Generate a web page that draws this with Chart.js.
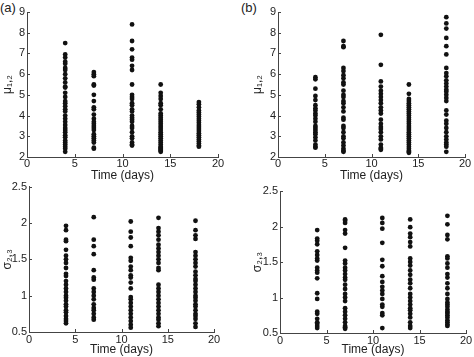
<!DOCTYPE html>
<html><head><meta charset="utf-8">
<script src="https://cdn.jsdelivr.net/npm/chart.js@4/dist/chart.umd.min.js"></script>
<style>
html,body{margin:0;padding:0;background:#fff;width:474px;height:357px;overflow:hidden;font-family:"Liberation Sans",Arial,sans-serif;}
.panel{position:absolute;}
.lab{position:absolute;font-size:13px;color:#222;}
</style></head><body>
<div class="lab" style="left:0px;top:0px;">(a)</div>
<div class="lab" style="left:241px;top:0px;">(b)</div>
<div class="panel" style="left:0;top:0;width:232px;height:183px;"><canvas id="cA"></canvas></div>
<div class="panel" style="left:250px;top:0;width:224px;height:183px;"><canvas id="cB"></canvas></div>
<div class="panel" style="left:0;top:178px;width:232px;height:179px;"><canvas id="cC"></canvas></div>
<div class="panel" style="left:250px;top:178px;width:224px;height:179px;"><canvas id="cD"></canvas></div>
<script>
// ---- Data ----
const days = [4, 7, 11, 14, 18];
const xTicks = [0, 5, 10, 15, 20];
const muTicks = [2, 3, 4, 5, 6, 7, 8, 9];
const sigmaTicks = [0.5, 1, 1.5, 2, 2.5];

// Panel (a): mu_{1,2}
const muA_d4 = [7.5, 6.95, 6.8, 6.6, 6.5, 6.3, 6.2, 6.0, 5.8, 5.6, 5.4, 5.35, 5.1, 4.9, 4.7, 4.6, 4.45, 4.3, 4.2, 4.0, 3.85, 3.7, 3.55, 3.4, 3.3, 3.2, 3.05, 2.95, 2.8, 2.7, 2.6, 2.5, 2.4, 2.25];
const muA_d7 = [6.1, 6.0, 5.9, 5.5, 5.45, 5.0, 4.7, 4.4, 4.3, 4.05, 3.85, 3.7, 3.6, 3.5, 3.4, 3.3, 3.1, 3.0, 2.9, 2.8, 2.7, 2.45, 2.4];
const muA_d11 = [8.4, 7.6, 7.2, 6.8, 6.7, 6.4, 6.2, 5.5, 5.0, 4.9, 4.8, 4.6, 4.5, 4.3, 4.2, 4.0, 3.9, 3.8, 3.7, 3.5, 3.4, 3.2, 3.0, 2.9, 2.7, 2.6, 2.55];
const muA_d14 = [5.5, 5.1, 4.95, 4.8, 4.6, 4.5, 4.3, 4.1, 4.0, 3.9, 3.8, 3.7, 3.6, 3.5, 3.4, 3.3, 3.2, 3.1, 3.0, 2.9, 2.8, 2.7, 2.6, 2.5, 2.45, 2.4, 2.35, 2.3, 2.25];
const muA_d18 = [4.65, 4.55, 4.4, 4.25, 4.15, 4.05, 3.95, 3.85, 3.75, 3.65, 3.55, 3.45, 3.35, 3.25, 3.15, 3.05, 2.95, 2.85, 2.75, 2.65, 2.55, 2.5];

// Panel (b): mu_{1,2}
const muB_d4 = [5.85, 5.75, 5.3, 4.95, 4.75, 4.5, 4.35, 4.25, 4.1, 4.0, 3.85, 3.7, 3.5, 3.4, 3.3, 3.2, 3.1, 2.95, 2.8, 2.6, 2.5, 2.45];
const muB_d7 = [7.6, 7.35, 7.3, 6.3, 6.15, 5.95, 5.8, 5.6, 5.5, 5.2, 5.0, 4.9, 4.7, 4.6, 4.4, 4.2, 3.9, 3.8, 3.5, 3.4, 3.2, 3.0, 2.9, 2.7, 2.55, 2.4, 2.3, 2.25];
const muB_d11 = [7.9, 6.45, 5.65, 5.4, 5.2, 5.05, 4.9, 4.75, 4.6, 4.4, 4.25, 4.1, 3.8, 3.6, 3.45, 3.35, 3.2, 3.0, 2.85, 2.6, 2.45, 2.4, 2.35];
const muB_d14 = [5.5, 5.05, 4.8, 4.7, 4.6, 4.5, 4.4, 4.3, 4.2, 4.1, 4.0, 3.9, 3.8, 3.7, 3.6, 3.5, 3.4, 3.3, 3.2, 3.1, 3.0, 2.9, 2.8, 2.7, 2.6, 2.5, 2.4, 2.3, 2.25, 2.2];
const muB_d18 = [8.75, 8.45, 8.2, 7.75, 7.35, 6.95, 6.3, 6.05, 5.9, 5.7, 5.55, 5.4, 5.25, 5.15, 5.0, 4.85, 4.7, 4.25, 4.05, 3.75, 3.6, 3.4, 3.2, 3.0, 2.85, 2.7, 2.6, 2.5, 2.25];

// Bottom-left: sigma_{2,3}
const sgC_d4 = [1.96, 1.9, 1.77, 1.75, 1.63, 1.55, 1.5, 1.45, 1.38, 1.3, 1.27, 1.2, 1.15, 1.1, 1.05, 1.0, 0.97, 0.93, 0.88, 0.85, 0.8, 0.77, 0.72, 0.68, 0.65, 0.62];
const sgC_d7 = [2.08, 1.77, 1.68, 1.57, 1.35, 1.25, 1.22, 1.1, 1.05, 1.0, 0.95, 0.88, 0.83, 0.8, 0.75, 0.7, 0.67];
const sgC_d11 = [2.02, 1.88, 1.8, 1.68, 1.52, 1.48, 1.4, 1.35, 1.28, 1.25, 1.18, 1.1, 0.98, 0.95, 0.9, 0.85, 0.8, 0.75, 0.7, 0.65, 0.6, 0.56];
const sgC_d14 = [2.07, 1.93, 1.88, 1.83, 1.77, 1.7, 1.65, 1.6, 1.55, 1.5, 1.45, 1.38, 1.35, 1.15, 1.1, 1.05, 1.0, 0.95, 0.9, 0.85, 0.8, 0.75, 0.7, 0.67, 0.62, 0.58];
const sgC_d18 = [2.03, 1.9, 1.83, 1.78, 1.6, 1.55, 1.5, 1.45, 1.4, 1.33, 1.28, 1.23, 1.2, 1.15, 1.1, 1.05, 1.0, 0.97, 0.93, 0.88, 0.85, 0.8, 0.75, 0.72, 0.68, 0.62, 0.57];

// Bottom-right: sigma_{2,3}
const sgD_d4 = [1.95, 1.83, 1.8, 1.75, 1.65, 1.6, 1.55, 1.52, 1.42, 1.38, 1.35, 1.27, 1.06, 0.98, 0.8, 0.77, 0.7, 0.65, 0.63, 0.6, 0.57];
const sgD_d7 = [2.1, 2.08, 2.05, 1.95, 1.9, 1.7, 1.52, 1.48, 1.42, 1.38, 1.33, 1.28, 1.25, 1.18, 1.12, 1.05, 1.0, 0.95, 0.85, 0.8, 0.75, 0.7, 0.65, 0.6, 0.58, 0.56];
const sgD_d11 = [2.12, 2.05, 1.97, 1.77, 1.53, 1.44, 1.3, 1.22, 1.15, 1.1, 1.05, 0.98, 0.9, 0.87, 0.78, 0.75, 0.57];
const sgD_d14 = [2.1, 1.99, 1.9, 1.85, 1.78, 1.72, 1.55, 1.5, 1.45, 1.38, 1.32, 1.25, 1.2, 1.13, 1.05, 1.0, 0.95, 0.9, 0.85, 0.82, 0.77, 0.72, 0.65, 0.6, 0.57];
const sgD_d18 = [2.15, 2.03, 1.88, 1.82, 1.58, 1.55, 1.48, 1.42, 1.33, 1.28, 1.2, 1.13, 1.05, 0.98, 0.93, 0.9, 0.87, 0.83, 0.8, 0.78, 0.75, 0.72, 0.68, 0.65, 0.62, 0.6];

const xLabel = 'Time (days)';
const muLabel = 'μ₁,₂';
const sigmaLabel = 'σ₂,₃';

// ---- Helpers ----
function toPoints(day, vals){ return vals.map(v => ({x: day, y: v})); }

const inwardTicks = {
  id: 'inwardTicks',
  afterDraw(chart){
    const ctx = chart.ctx, a = chart.chartArea;
    ctx.save();
    ctx.strokeStyle = '#444'; ctx.lineWidth = 1;
    const xs = chart.scales.x, ys = chart.scales.y;
    xs.ticks.forEach(t => {
      const px = Math.round(xs.getPixelForValue(t.value)) + 0.5;
      ctx.beginPath(); ctx.moveTo(px, a.bottom); ctx.lineTo(px, a.bottom - 3); ctx.stroke();
    });
    ys.ticks.forEach(t => {
      const py = Math.round(ys.getPixelForValue(t.value)) + 0.5;
      ctx.beginPath(); ctx.moveTo(a.left, py); ctx.lineTo(a.left + 3, py); ctx.stroke();
    });
    ctx.restore();
  }
};

function makeChart(id, seriesList, yTicks, yTitle, geo){
  const datasets = seriesList.map((vals, i) => ({
    data: toPoints(days[i], vals),
    backgroundColor: '#111', borderWidth: 0, pointRadius: 2.4, pointHoverRadius: 2.4
  }));
  return new Chart(document.getElementById(id), {
    type: 'scatter',
    data: { datasets },
    plugins: [inwardTicks],
    options: {
      responsive: true, maintainAspectRatio: false, animation: false,
      events: [],
      layout: { padding: { left: 0, right: geo.right, top: geo.top, bottom: 0 } },
      plugins: { legend: { display: false }, tooltip: { enabled: false } },
      scales: {
        x: {
          type: 'linear', min: xTicks[0], max: xTicks[xTicks.length - 1],
          afterBuildTicks: s => { s.ticks = xTicks.map(v => ({value: v})); },
          afterFit: s => { s.height = geo.xh; },
          grid: { display: false, drawTicks: false },
          border: { display: true, color: '#444', width: 1 },
          ticks: { color: '#222', padding: geo.xpad, font: { family: 'Liberation Sans', size: 11 }, maxRotation: 0,
                   callback: v => String(v) },
          title: { display: true, text: xLabel, color: '#222', padding: { top: 0, bottom: 0 }, font: { family: 'Liberation Sans', size: 12 } }
        },
        y: {
          type: 'linear', min: yTicks[0], max: yTicks[yTicks.length - 1],
          afterBuildTicks: s => { s.ticks = yTicks.map(v => ({value: v})); },
          afterFit: s => { s.width = geo.yw; },
          grid: { display: false, drawTicks: false },
          border: { display: true, color: '#444', width: 1 },
          ticks: { color: '#222', padding: 2, font: { family: 'Liberation Sans', size: 11 },
                   callback: v => String(v) },
          title: { display: true, text: yTitle, color: '#222', padding: { top: 0, bottom: 0 }, font: { family: 'Liberation Sans', size: 12 } }
        }
      }
    }
  });
}

makeChart('cA', [muA_d4, muA_d7, muA_d11, muA_d14, muA_d18], muTicks, muLabel, {yw: 27, right: 14, top: 12, xh: 26, xpad: 0});
makeChart('cB', [muB_d4, muB_d7, muB_d11, muB_d14, muB_d18], muTicks, muLabel, {yw: 28, right: 9, top: 12, xh: 26, xpad: 0});
makeChart('cC', [sgC_d4, sgC_d7, sgC_d11, sgC_d14, sgC_d18], sigmaTicks, sigmaLabel, {yw: 29, right: 18, top: 8, xh: 25, xpad: 1});
makeChart('cD', [sgD_d4, sgD_d7, sgD_d11, sgD_d14, sgD_d18], sigmaTicks, sigmaLabel, {yw: 30, right: 8, top: 13, xh: 24, xpad: 1});
</script>
</body></html>
